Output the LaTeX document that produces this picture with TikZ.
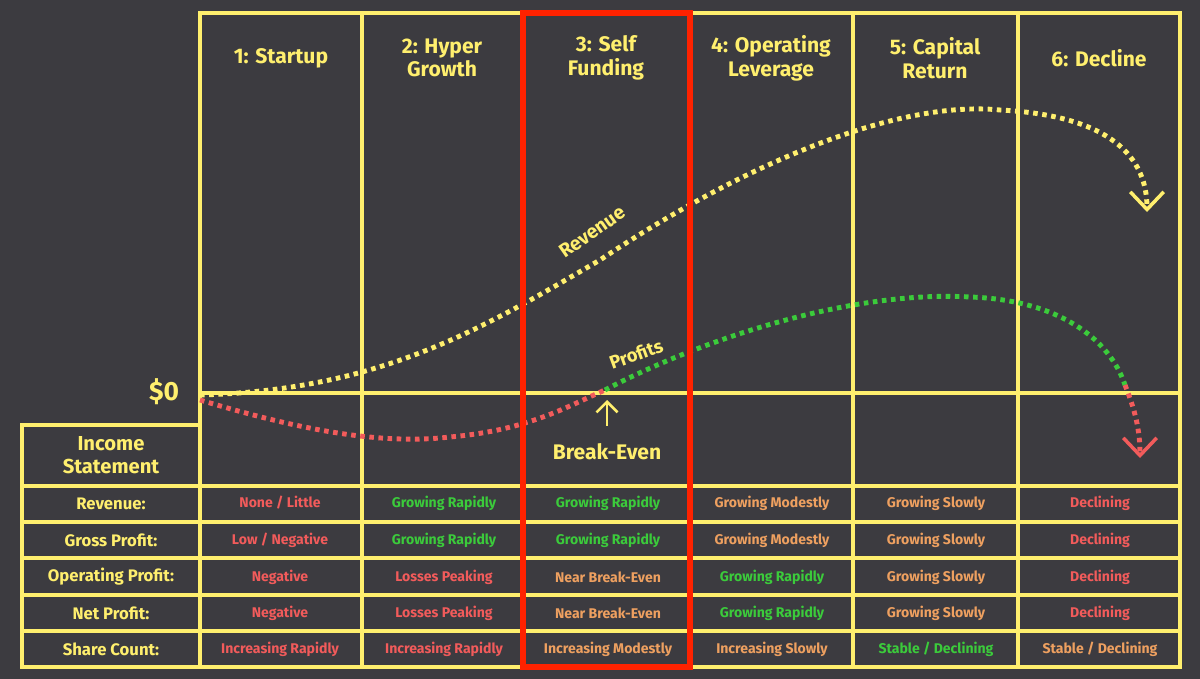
\documentclass[tikz,border=0pt]{standalone}
\usepackage{fontspec}
\setmainfont{Fira Sans}
\usetikzlibrary{arrows.meta}
\definecolor{bg}{HTML}{3C3B40}
\definecolor{ylw}{HTML}{FFEF6E}
\definecolor{rd}{HTML}{F25B5B}
\definecolor{gr}{HTML}{3BCB3B}
\definecolor{org}{HTML}{EEA060}
\definecolor{box}{HTML}{FF2200}
\tikzset{
  grid/.style={draw=ylw,line width=2.1pt},
  head/.style={text=ylw,font=\fontsize{12}{13.5}\selectfont\bfseries,align=center},
  rowlab/.style={text=ylw,font=\fontsize{9.5}{11}\selectfont\bfseries,align=center},
  cell/.style={font=\fontsize{8}{9}\selectfont\bfseries},
  trend/.style={line width=2.8pt,dash pattern=on 2.6pt off 2.6pt},
  tip/.style={-{Straight Barb[length=10pt,width=19pt,line width=2pt]}}
}
\begin{document}
\begin{tikzpicture}[x=0.02cm,y=-0.02cm]
\fill[bg] (0,0) rectangle (1200,679);
\useasboundingbox (0,0) rectangle (1200,679);
% columns
\foreach \xa/\xb in {200/362,362/523,523/690,690/853,853/1018,1018/1180}
  \draw[grid] (\xa,13) rectangle (\xb,667);
\draw[grid] (200,393) -- (1180,393);
\draw[grid] (22,425) rectangle (200,667);
\foreach \y in {486,522,558,595,631}
  \draw[grid] (22,\y) -- (1180,\y);
% headers
\node[head] (h1) at (281,58) {1: Startup};
\node[head] (h2) at (442,58) {2: Hyper\\Growth};
\node[head] (h3) at (606,58) {3: Self\\Funding};
\node[head] (h4) at (771,58) {4: Operating\\Leverage};
\node[head] (h5) at (935,58) {5: Capital\\Return};
\node[head] (h6) at (1099,58) {6: Decline};
\node[head,font=\fontsize{15}{16}\selectfont\bfseries] (zero) at (164,392) {\$0};
\node[rowlab,font=\fontsize{11.5}{13}\selectfont\bfseries] (inc) at (111,455) {Income\\Statement};
% row labels
\foreach \t [count=\i] in {Revenue:,Gross Profit:,Operating Profit:,Net Profit:,Share Count:}
  \node[rowlab] (r\i) at (111,468+36.3*\i) {\t};
% cells
\foreach \i/\c/\t in {1/rd/{None / Little},2/gr/Growing Rapidly,3/gr/Growing Rapidly,4/org/Growing Modestly,5/org/Growing Slowly,6/rd/Declining}
  \node[cell,text=\c] (a\i) at (116+164*\i,503) {\t};
\foreach \i/\c/\t in {1/rd/{Low / Negative},2/gr/Growing Rapidly,3/gr/Growing Rapidly,4/org/Growing Modestly,5/org/Growing Slowly,6/rd/Declining}
  \node[cell,text=\c] (b\i) at (116+164*\i,540) {\t};
\foreach \i/\c/\t in {1/rd/Negative,2/rd/Losses Peaking,3/org/Near Break-Even,4/gr/Growing Rapidly,5/org/Growing Slowly,6/rd/Declining}
  \node[cell,text=\c] (c\i) at (116+164*\i,577) {\t};
\foreach \i/\c/\t in {1/rd/Negative,2/rd/Losses Peaking,3/org/Near Break-Even,4/gr/Growing Rapidly,5/org/Growing Slowly,6/rd/Declining}
  \node[cell,text=\c] (d\i) at (116+164*\i,613) {\t};
\foreach \i/\c/\t in {1/rd/Increasing Rapidly,2/rd/Increasing Rapidly,3/org/Increasing Modestly,4/org/Increasing Slowly,5/gr/{Stable / Declining},6/org/{Stable / Declining}}
  \node[cell,text=\c] (e\i) at (116+164*\i,649) {\t};
% curves
\draw[trend,ylw,tip] (200,395) .. controls (380,390) and (480,330) .. (600,260)
  .. controls (750,160) and (900,100) .. (1000,110)
  .. controls (1100,115) and (1147,150) .. (1147,212);
\draw[trend,rd] (200,400) .. controls (300,430) and (380,445) .. (450,437)
  .. controls (530,430) and (570,405) .. (605,390);
\draw[trend,gr] (605,390) .. controls (700,340) and (850,290) .. (970,297)
  .. controls (1060,300) and (1110,340) .. (1125,385);
\draw[trend,rd,tip] (1125,385) .. controls (1135,410) and (1140,430) .. (1140,458);
\node[head,rotate=35,font=\fontsize{11}{12}\selectfont\bfseries] (rev) at (592,232) {Revenue};
\node[head,rotate=20,font=\fontsize{10.5}{12}\selectfont\bfseries] (prof) at (636,354) {Profits};
\node[head] (be) at (607,452) {Break-Even};
\coordinate (bept) at (607,400);
\draw[ylw,line width=1.5pt,-{Straight Barb[length=6pt,width=12pt]}] (be.north) ++(0,-12) -- (bept);
% highlight
\draw[box,line width=3.8pt] (523,13) rectangle (690,667);
\end{tikzpicture}
\end{document}
